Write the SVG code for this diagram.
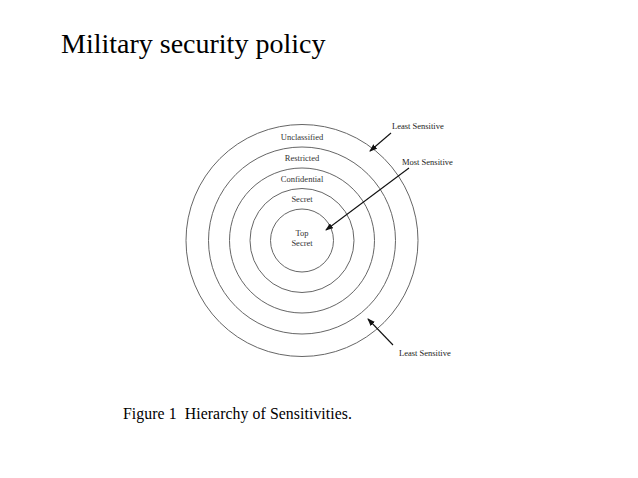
<svg xmlns="http://www.w3.org/2000/svg" width="638" height="478" viewBox="0 0 638 478">
<style>
.ring{fill:none;stroke:#666;stroke-width:1}
.lbl{font-family:"Liberation Serif",serif;font-size:8.5px;fill:#333;text-anchor:middle}
.ann{font-family:"Liberation Serif",serif;font-size:8.5px;fill:#222}
.arr{stroke:#111;stroke-width:1.1;fill:none;marker-end:url(#ah)}
.title{font-family:"Liberation Serif",serif;font-size:28px;fill:#000}
.cap{font-family:"Liberation Serif",serif;font-size:15.8px;fill:#000;white-space:pre}
</style>
<defs>
<marker id="ah" markerWidth="8" markerHeight="6" refX="7" refY="3" orient="auto" markerUnits="userSpaceOnUse">
<path d="M0,0 L8,3 L0,6 Z" fill="#111"/>
</marker>
</defs>
<rect width="638" height="478" fill="#fff"/>
<text class="title" x="61" y="53">Military security policy</text>
<g id="unclassified"><circle class="ring" cx="302" cy="240.5" r="116"/><text class="lbl" x="302" y="140">Unclassified</text></g>
<g id="restricted"><circle class="ring" cx="302" cy="240.5" r="93.5"/><text class="lbl" x="302" y="161">Restricted</text></g>
<g id="confidential"><circle class="ring" cx="302" cy="240.5" r="72.5"/><text class="lbl" x="302" y="182">Confidential</text></g>
<g id="secret"><circle class="ring" cx="302" cy="240.5" r="52"/><text class="lbl" x="302" y="202">Secret</text></g>
<g id="topsecret"><circle class="ring" cx="302" cy="240.5" r="31.5"/><text class="lbl" x="302" y="236">Top</text><text class="lbl" x="302" y="246">Secret</text></g>
<g id="connectors">
<line class="arr" x1="391" y1="133" x2="370" y2="151"/>
<line class="arr" x1="409" y1="168" x2="326" y2="230"/>
<line class="arr" x1="393" y1="345" x2="368" y2="319"/>
</g>
<g id="annotations">
<text class="ann" x="392" y="129">Least Sensitive</text>
<text class="ann" x="402" y="165">Most Sensitive</text>
<text class="ann" x="399" y="356">Least Sensitive</text>
</g>
<text class="cap" x="123" y="419" xml:space="preserve" textLength="229">Figure 1  Hierarchy of Sensitivities.</text>
</svg>
